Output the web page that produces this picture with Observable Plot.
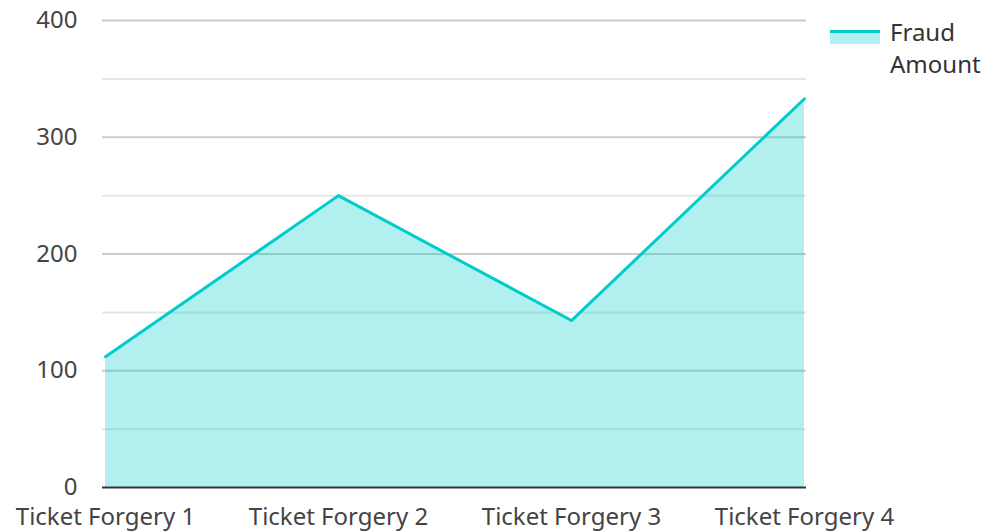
<!DOCTYPE html>
<html>
<head>
<meta charset="utf-8">
<script src="https://cdn.jsdelivr.net/npm/d3@7"></script>
<script src="https://cdn.jsdelivr.net/npm/@observablehq/plot@0.6"></script>
<style>
  html, body { margin: 0; padding: 0; background: #fff; }
  #wrap { position: relative; width: 987px; height: 531px; font-family: "Noto Sans", sans-serif; }
  #legend { position: absolute; left: 830px; top: 16px; display: flex; align-items: flex-start; }
  #legend .sw { width: 50px; height: 14px; margin-top: 14px; background: rgba(0,204,204,0.3); border-top: 3px solid #00cccc; box-sizing: border-box; }
  #legend .txt { margin-left: 10px; font-size: 24px; line-height: 32px; color: #333; }
</style>
</head>
<body>
<div id="wrap">
  <div id="chart"></div>
  <div id="legend"><div class="sw"></div><div class="txt">Fraud<br>Amount</div></div>
</div>
<script>
const categories = ["Ticket Forgery 1", "Ticket Forgery 2", "Ticket Forgery 3", "Ticket Forgery 4"];
const fraudAmount = [112, 250, 143, 333];
const majorTicks = [0, 100, 200, 300, 400];
const minorTicks = [50, 150, 250, 350];

const data = categories.map((c, i) => ({ category: c, value: fraudAmount[i] }));

const chart = Plot.plot({
  width: 987,
  height: 531,
  marginTop: 20,
  marginBottom: 44,
  marginLeft: 104,
  marginRight: 183,
  style: { fontFamily: "Noto Sans, sans-serif", fontSize: "24px", color: "#444", background: "#fff" },
  x: { type: "point", domain: categories, padding: 0, label: null },
  y: { domain: [0, 400], label: null },
  marks: [
    Plot.ruleY(minorTicks, { stroke: "#000", strokeOpacity: 0.1, strokeWidth: 2, insetLeft: -2, insetRight: -2 }),
    Plot.ruleY(majorTicks.filter(d => d > 0), { stroke: "#000", strokeOpacity: 0.2, strokeWidth: 2, insetLeft: -2, insetRight: -2 }),
    Plot.areaY(data, { x: "category", y: "value", fill: "#00cccc", fillOpacity: 0.3, curve: "linear" }),
    Plot.lineY(data, { x: "category", y: "value", stroke: "#00cccc", strokeWidth: 3, curve: "linear" }),
    Plot.ruleY([0], { stroke: "#333", strokeWidth: 2, insetLeft: -2, insetRight: -2 }),
    Plot.axisX({ tickSize: 0, tickPadding: 20, fontSize: 24, fill: "#444", label: null }),
    Plot.axisY({ ticks: majorTicks, tickSize: 0, tickPadding: 27, fontSize: 24, fill: "#444", label: null })
  ]
});
document.getElementById("chart").appendChild(chart);
</script>
</body>
</html>
